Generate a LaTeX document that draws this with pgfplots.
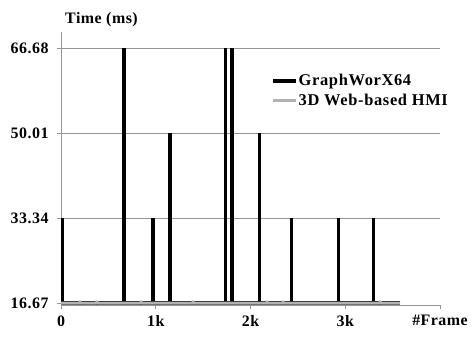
\documentclass[border=0pt]{standalone}
\usepackage{fontspec}
\setmainfont{Liberation Serif}
\usepackage{pgfplots}
\pgfplotsset{compat=1.18}
\definecolor{gridg}{RGB}{150,150,150}
\definecolor{webg}{RGB}{178,178,178}
\newcommand{\lblfont}{\fontsize{16}{18}\selectfont\bfseries\addfontfeatures{LetterSpace=3}}
\newcommand{\legfont}{\fontsize{16.5}{18}\selectfont\bfseries\addfontfeatures{LetterSpace=4}}
\begin{document}
\begin{tikzpicture}[x=1bp,y=1bp]
\path[use as bounding box] (0,0) rectangle (474,337);
\begin{axis}[
  at={(61bp,32bp)}, anchor=south west,
  scale only axis, width=379bp, height=273bp,
  xmin=0, xmax=4000, ymin=16.28, ymax=69.82,
  axis lines*=left,
  axis line style={gridg, line width=0.8pt},
  xtick={0,1000,2000,3000,4000}, xticklabels={0,1k,2k,3k,\#Frame},
  ytick={33.34,50.01,66.68}, yticklabels={33.34,50.01,66.68},
  extra y ticks={16.67}, extra y tick labels={16.67},
  extra y tick style={grid=none},
  ymajorgrids, grid style={gridg, line width=0.8pt},
  tick align=outside, major tick length=4bp,
  tick style={gridg, line width=0.8pt},
  /pgf/number format/assume math mode=true,
  ticklabel style={font=\lblfont},
  yticklabel style={xshift=-5bp},
  xticklabel style={yshift=-3bp},
  legend style={draw=none, fill=none, at={(0.547,0.856)}, anchor=north west,
    font=\legfont, row sep=5bp,
    nodes={inner sep=1bp}},
  legend cell align=left,
  legend image code/.code={\draw[#1] (0bp,0bp) -- (23bp,0bp);},
]
\addplot[black, line width=3.2bp, line join=bevel] coordinates {
 (0,16.67) (10,16.67) (10,33.34) (10,16.67)
 (665,16.67) (665,66.68) (665,16.67)
 (970,16.67) (970,33.34) (970,16.67)
 (1150,16.67) (1150,50.01) (1150,16.67)
 (1740,16.67) (1740,66.68) (1740,16.67)
 (1805,16.67) (1805,66.68) (1805,16.67)
 (2098,16.67) (2098,50.01) (2098,16.67)
 (2436,16.67) (2436,33.34) (2436,16.67)
 (2928,16.67) (2928,33.34) (2928,16.67)
 (3295,16.67) (3295,33.34) (3295,16.67)
 (3580,16.67)
};
\addlegendentry{GraphWorX64}
\addplot[webg, line width=3bp] coordinates {
 (0,16.67) (190,16.67) (200,16.85) (210,16.67)
 (370,16.67) (380,16.85) (390,16.67)
 (835,16.67) (845,16.85) (855,16.67)
 (1384,16.67) (1394,16.85) (1404,16.67)
 (2165,16.67) (2175,16.85) (2185,16.67)
 (2334,16.67) (2344,16.85) (2354,16.67)
 (3359,16.67) (3369,16.85) (3379,16.67)
 (3580,16.67)
};
\addlegendentry{3D Web-based HMI}
\end{axis}
\node[anchor=west, font=\lblfont, inner sep=0pt] at (65,317) {Time (ms)};
\end{tikzpicture}
\end{document}
